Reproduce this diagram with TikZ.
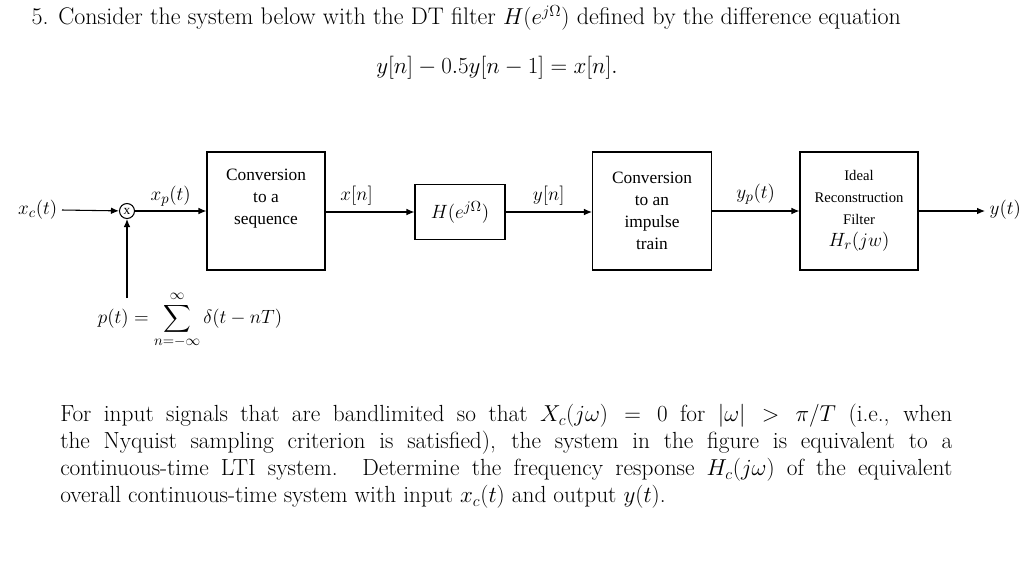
\documentclass[tikz,border=0pt]{standalone}
\usepackage{amsmath}
\usepackage{fontspec}
\newfontfamily\tnr{Liberation Serif}
\usetikzlibrary{arrows.meta}
\begin{document}
\begin{tikzpicture}[x=0.75pt,y=-0.75pt,
  blk/.style={draw,thick,font=\tnr\fontsize{13}{16.5}\selectfont,align=center,inner sep=0},
  sig/.style={thick,-{Latex[length=6pt,width=5pt]}},
  lab/.style={font=\fontsize{15.5}{18}\selectfont}]
\useasboundingbox (0,0) rectangle (1024,569);
\node[anchor=west,font=\fontsize{18}{22}\selectfont] (t1) at (27,18) {5. Consider the system below with the DT filter $H(e^{j\Omega})$ defined by the difference equation};
\node[font=\fontsize{18}{22}\selectfont] (eq) at (497,68) {$y[n]-0.5y[n-1]=x[n].$};
% blocks
\node[blk,minimum width=118*0.75pt,minimum height=118*0.75pt] (b1) at (266,211) {Conversion\\to a\\sequence\\\strut};
\node[blk,minimum width=90*0.75pt,minimum height=55*0.75pt,font=\fontsize{15.5}{18}\selectfont] (b2) at (460,212) {$H(e^{j\Omega})$};
\node[blk,minimum width=119*0.75pt,minimum height=118*0.75pt] (b3) at (652,211) {Conversion\\to an\\impulse\\train};
\node[blk,minimum width=118*0.75pt,minimum height=118*0.75pt,font=\tnr\fontsize{11}{16.5}\selectfont] (b4) at (859,211) {Ideal\\Reconstruction\\Filter\\{\fontsize{15.5}{16}\selectfont$H_r(jw)$}};
% multiplier
\node[draw,thick,circle,minimum size=15*0.75pt,inner sep=0,font=\tnr\fontsize{10}{12}\selectfont] (m) at (127,211) {x};
\node[lab,anchor=east] (xc) at (62,210) {$x_c(t)$};
\node[lab] (p) at (190,320) {$p(t)=\displaystyle\sum_{n=-\infty}^{\infty}\delta(t-nT)$};
\coordinate (pt) at (127,298);
\coordinate (yo) at (985,211);
\node[lab,anchor=west] (yl) at (985,210) {$y(t)$};
\draw[sig] (xc.east) -- (m);
\draw[sig] (pt) -- (m);
\draw[sig] (m) -- node[lab,above=0pt,pos=0.5]{$x_p(t)$} (b1.west|-m);
\draw[sig] (b1.east|-b2) -- node[lab,above=1pt,pos=0.35]{$x[n]$} (b2.west);
\draw[sig] (b2.east) -- node[lab,above=1pt,pos=0.5]{$y[n]$} (b3.west|-b2);
\draw[sig] (b3.east|-b4) -- node[lab,above=1pt,pos=0.5]{$y_p(t)$} (b4.west);
\draw[sig] (b4.east) -- (yo);
\node[anchor=north west,text width=892*0.75pt,align=justify,inner sep=0,font=\fontsize{17.5}{20.2}\selectfont] (para) at (60,404) {For input signals that are bandlimited so that $X_c(j\omega)=0$ for $|\omega|>\pi/T$ (i.e., when\linebreak the Nyquist sampling criterion is satisfied), the system in the figure is equivalent to a\linebreak continuous-time LTI system. Determine the frequency response $H_c(j\omega)$ of the equivalent\linebreak overall continuous-time system with input $x_c(t)$ and output $y(t)$.};
\end{tikzpicture}
\end{document}
